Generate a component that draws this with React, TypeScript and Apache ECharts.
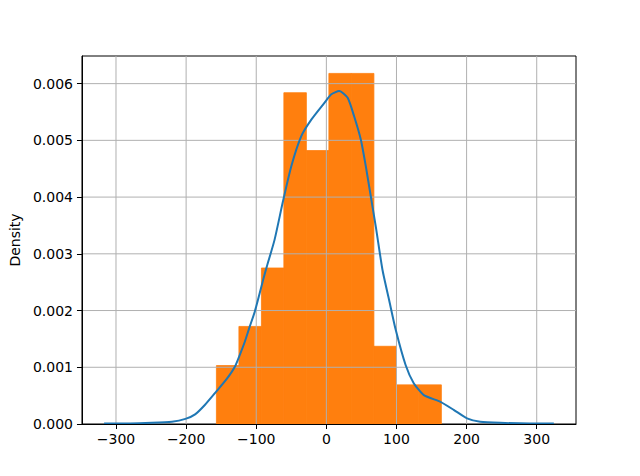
import React, { useEffect, useRef } from "react";
import * as echarts from "echarts";

// Histogram bin edges and density heights
const binEdges = [-156.8, -124.7, -92.6, -60.6, -28.5, 3.6, 35.7, 67.8, 99.8, 131.9, 164.0];
const binHeights = [0.00103, 0.00172, 0.00275, 0.00584, 0.00482, 0.00618, 0.00618, 0.00137, 0.00069, 0.00069];

// KDE curve
const kdeX = [-317, -280, -248.7, -220.3, -201, -187.2, -173, -156.5, -142.3, -130.5, -123.4, -116.3, -109.2, -102.1, -95, -90.2, -84.8, -73.8, -61.8, -50.1, -35.9, -21.7, -2.8, 6.7, 18.4, 30.4, 39.7, 49.2, 56.3, 63.4, 70.5, 80, 89.4, 98.9, 113, 124.6, 139, 162.7, 181.6, 200.6, 219.4, 247.8, 290, 324.4];
const kdeY = [0.00001, 0.00001, 0.00002, 0.00004, 0.00009, 0.00017, 0.00034, 0.00058, 0.00079, 0.00101, 0.00122, 0.00145, 0.00172, 0.00198, 0.00231, 0.00254, 0.00278, 0.00325, 0.00393, 0.00454, 0.00507, 0.00536, 0.00566, 0.00581, 0.00587, 0.00575, 0.00542, 0.00501, 0.00454, 0.00401, 0.00348, 0.00272, 0.00219, 0.00166, 0.00104, 0.00072, 0.00051, 0.00039, 0.00025, 0.0001, 0.00004, 0.00002, 0.00001, 0.00001];

const xTicks = [-300, -200, -100, 0, 100, 200, 300];
const yTicks = [0, 0.001, 0.002, 0.003, 0.004, 0.005, 0.006];

const X_MIN = -348.5;
const X_MAX = 356;
const Y_MAX = 0.006487;

const fmtX = (v: number) => String(Math.round(v)).replace("-", "\u2212");
const fmtY = (v: number) => v.toFixed(3);

export default function App() {
  const ref = useRef<HTMLDivElement>(null);
  useEffect(() => {
    if (!ref.current) return;
    const chart = echarts.init(ref.current, null, { renderer: "svg" });
    const font = "DejaVu Sans";
    const barData = binHeights.map((h, i) => [binEdges[i], binEdges[i + 1], h]);
    const lineData = kdeX.map((x, i) => [x, kdeY[i]]);
    // grid lines: [value, orientation] 0 = vertical (x), 1 = horizontal (y)
    const gridData = [
      ...xTicks.map((v) => [v, 0, 0]),
      ...yTicks.filter((v) => v > 0).map((v) => [X_MIN, v, 1]),
    ];
    chart.setOption({
      animation: false,
      backgroundColor: "#ffffff",
      grid: {
        left: 80,
        right: 64,
        top: 56,
        bottom: 52,
        show: true,
        borderColor: "#000",
        borderWidth: 1,
        backgroundColor: "transparent",
      },
      xAxis: {
        type: "value",
        min: X_MIN,
        max: X_MAX,
        z: 10,
        axisLine: { show: true, onZero: false, lineStyle: { color: "#000", width: 1 } },
        axisTick: { show: true, customValues: xTicks, length: 5, lineStyle: { color: "#000", width: 1 } },
        axisLabel: {
          customValues: xTicks,
          formatter: fmtX,
          color: "#000",
          fontFamily: font,
          fontSize: 14,
          margin: 8,
        },
        splitLine: { show: false },
      },
      yAxis: {
        type: "value",
        min: 0,
        max: Y_MAX,
        z: 10,
        name: "Density",
        nameLocation: "middle",
        nameGap: 52,
        nameTextStyle: { color: "#000", fontFamily: font, fontSize: 14 },
        axisLine: { show: true, onZero: false, lineStyle: { color: "#000", width: 1 } },
        axisTick: { show: true, customValues: yTicks, length: 5, lineStyle: { color: "#000", width: 1 } },
        axisLabel: {
          customValues: yTicks,
          formatter: fmtY,
          color: "#000",
          fontFamily: font,
          fontSize: 14,
          margin: 9,
        },
        splitLine: { show: false },
      },
      series: [
        {
          type: "custom",
          z: 2,
          silent: true,
          encode: { x: [0, 1], y: 2 },
          data: barData,
          renderItem: (params: any, api: any) => {
            const p0 = api.coord([api.value(0), api.value(2)]);
            const p1 = api.coord([api.value(1), 0]);
            return {
              type: "rect",
              shape: { x: p0[0], y: p0[1], width: p1[0] - p0[0], height: p1[1] - p0[1] },
              style: { fill: "#ff7f0e", stroke: "#ff7f0e", lineWidth: 0.8 },
            };
          },
        },
        {
          type: "custom",
          z: 3,
          silent: true,
          encode: { x: 0, y: 1 },
          data: gridData,
          renderItem: (params: any, api: any) => {
            const cs = params.coordSys;
            const p = api.coord([api.value(0), api.value(1)]);
            const vertical = api.value(2) === 0;
            const shape = vertical
              ? { x1: p[0], y1: cs.y, x2: p[0], y2: cs.y + cs.height }
              : { x1: cs.x, y1: p[1], x2: cs.x + cs.width, y2: p[1] };
            return {
              type: "line",
              shape,
              style: { stroke: "#b0b0b0", lineWidth: 1 },
            };
          },
        },
        {
          type: "line",
          z: 6,
          data: lineData,
          showSymbol: false,
          smooth: 0.2,
          lineStyle: { color: "#1f77b4", width: 2 },
          itemStyle: { color: "#1f77b4" },
        },
      ],
    });
    return () => chart.dispose();
  }, []);
  return (
    <div
      ref={ref}
      style={{ position: "fixed", left: 0, top: 0, width: 640, height: 476 }}
    />
  );
}
